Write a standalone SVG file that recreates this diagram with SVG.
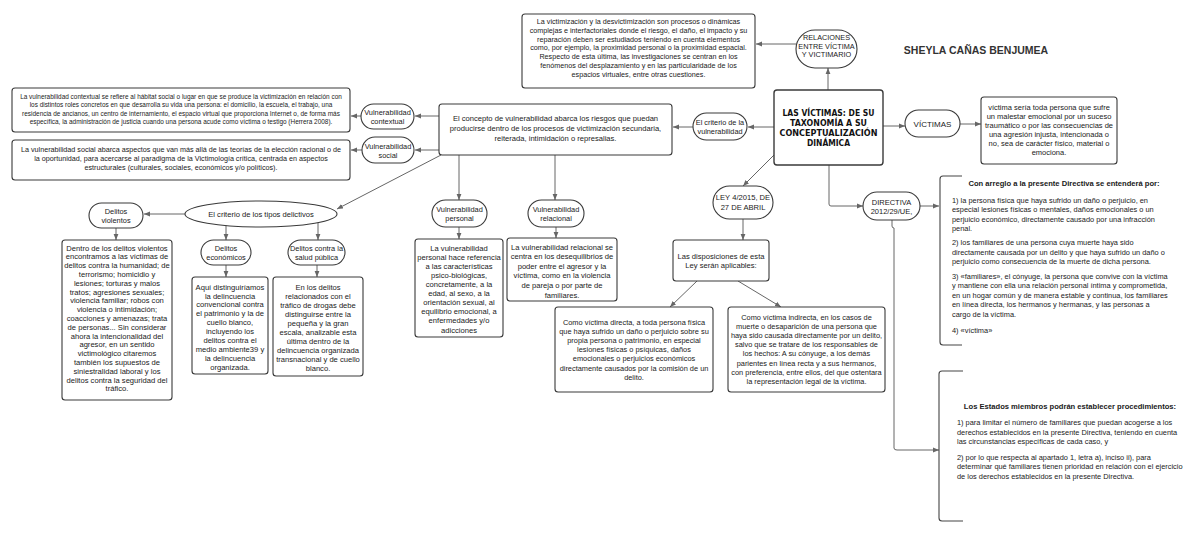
<svg xmlns="http://www.w3.org/2000/svg" width="1200" height="535" viewBox="0 0 1200 535">
<style>
text{font-family:"Liberation Sans",Arial,sans-serif;fill:#1a1a1a}
.t{font-size:7.5px;text-anchor:middle}
.l{font-size:7.4px;text-anchor:start}
.b{fill:#fff;stroke:#3a3a3a;stroke-width:1.1}
.c{fill:none;stroke:#666;stroke-width:1}
.br{fill:none;stroke:#444;stroke-width:1.1}
.h{font-weight:bold}
.m{font-family:"DejaVu Sans",sans-serif;font-weight:bold;font-size:9.5px;text-anchor:middle;fill:#111}
</style>
<defs>
<marker id="a" viewBox="0 0 10 10" refX="10" refY="5" markerWidth="6" markerHeight="6" markerUnits="userSpaceOnUse" orient="auto"><path d="M0,1 L10,5 L0,9 z" fill="#666"/></marker>
</defs>
<rect width="1200" height="535" fill="#fff"/>

<g id="connectors" class="c" marker-end="url(#a)">
<path d="M828,90 V68"/>
<path d="M796,44 H756"/>
<path d="M774,127 H748"/>
<path d="M693,127 H673"/>
<path d="M439,116 H415"/>
<path d="M361,116 H351"/>
<path d="M439,150 H415"/>
<path d="M362,150 H351"/>
<path d="M441,155 L337,209"/>
<path d="M185,214 H144"/>
<path d="M116,228 V240"/>
<path d="M226,225 V240"/>
<path d="M226,265 V277"/>
<path d="M318,223 V240"/>
<path d="M317,265 V277"/>
<path d="M459,155 V200"/>
<path d="M459,227 V239"/>
<path d="M555,155 V200"/>
<path d="M556,227 V238"/>
<path d="M775,154 L743,186"/>
<path d="M743,219 V240"/>
<path d="M697,281 L670,307"/>
<path d="M738,281 L781,307"/>
<path d="M829,165 V204 Q829,206 831,206 H863"/>
<path d="M883,126 H905"/>
<path d="M960,124 H981"/>
<path d="M920,206 H939"/>
<path d="M892,220 V226 Q892,228 894,228 V448 Q894,450 897,450 H939"/>
</g>

<text x="976" y="54" class="h" style="font-size:10.5px;text-anchor:middle;fill:#333">SHEYLA CAÑAS BENJUMEA</text>

<g id="center">
<rect class="b" x="774" y="90" width="109" height="75" rx="3" style="stroke-width:1.4"/>
<text class="m" x="828.5" y="115.5" textLength="92" lengthAdjust="spacingAndGlyphs">LAS VÍCTIMAS: DE SU</text>
<text class="m" x="828.5" y="125.5" textLength="77" lengthAdjust="spacingAndGlyphs">TAXONOMÍA A SU</text>
<text class="m" x="828.5" y="135.5" textLength="98" lengthAdjust="spacingAndGlyphs">CONCEPTUALIZACIÓN</text>
<text class="m" x="828.5" y="145.5" textLength="43" lengthAdjust="spacingAndGlyphs">DINÁMICA</text>
</g>

<g id="relaciones">
<rect class="b" x="796" y="30" width="61" height="38" rx="19"/>
<text class="t" x="826.5" y="40" style="font-size:7.3px">RELACIONES</text>
<text class="t" x="826.5" y="48.5" style="font-size:7.3px">ENTRE VÍCTIMA</text>
<text class="t" x="826.5" y="57" style="font-size:7.3px">Y VICTIMARIO</text>
</g>

<g id="victimizacion" class="t" style="font-size:7.2px">
<rect class="b" x="522" y="14" width="233" height="74" rx="3"/>
<text x="638.5" y="24">La victimización y la desvictimización son procesos o dinámicas</text>
<text x="638.5" y="32.8">complejas e interfactoriales donde el riesgo, el daño, el impacto y su</text>
<text x="638.5" y="41.6">reparación deben ser estudiados teniendo en cuenta elementos</text>
<text x="638.5" y="50.4">como, por ejemplo, la proximidad personal o la proximidad espacial.</text>
<text x="638.5" y="59.2">Respecto de esta última, las investigaciones se centran en los</text>
<text x="638.5" y="68">fenómenos del desplazamiento y en las particularidade de los</text>
<text x="638.5" y="76.8">espacios virtuales, entre otras cuestiones.</text>
</g>

<g id="criterio-vuln" class="t" style="font-size:7.3px">
<rect class="b" x="693" y="113" width="54" height="27" rx="13.5"/>
<text x="720" y="124.6">El criterio de la</text>
<text x="720" y="133.6">vulnerabilidad</text>
</g>

<g id="concepto" class="t" style="font-size:7.6px">
<rect class="b" x="439" y="104" width="233" height="51" rx="3"/>
<text x="555.5" y="120.7">El concepto de vulnerabilidad abarca los riesgos que puedan</text>
<text x="555.5" y="130.7">producirse dentro de los procesos de victimización secundaria,</text>
<text x="555.5" y="140.7">reiterada, intimidación o represalias.</text>
</g>

<g id="vuln-contextual" class="t" style="font-size:7.4px">
<rect class="b" x="361" y="104" width="53" height="25" rx="12.5"/>
<text x="387.5" y="114.6">Vulnerabilidad</text>
<text x="387.5" y="123.6">contextual</text>
</g>

<g id="contextual-texto" class="t" style="font-size:6.45px">
<rect class="b" x="12" y="88" width="338" height="44" rx="3"/>
<text x="181" y="98.7">La vulnerabilidad contextual se refiere al hábitat social o lugar en que se produce la victimización en relación con</text>
<text x="181" y="107.2">los distintos roles concretos en que desarrolla su vida una persona: el domicilio, la escuela, el trabajo, una</text>
<text x="181" y="115.7">residencia de ancianos, un centro de internamiento, el espacio virtual que proporciona Internet o, de forma más</text>
<text x="181" y="124.2">específica, la administración de justicia cuando una persona acude como víctima o testigo (Herrera 2008).</text>
</g>

<g id="vuln-social" class="t" style="font-size:7.4px">
<rect class="b" x="362" y="137" width="52" height="26" rx="13"/>
<text x="388" y="148.6">Vulnerabilidad</text>
<text x="388" y="157.6">social</text>
</g>

<g id="social-texto" class="t" style="font-size:7.2px">
<rect class="b" x="12" y="140" width="338" height="40" rx="3"/>
<text x="181" y="151.5">La vulnerabilidad social abarca aspectos que van más allá de las teorías de la elección racional o de</text>
<text x="181" y="160.5">la oportunidad, para acercarse al paradigma de la Victimología crítica, centrada en aspectos</text>
<text x="181" y="169.5">estructurales (culturales, sociales, económicos y/o políticos).</text>
</g>

<g id="tipos-delictivos" class="t" style="font-size:7.6px">
<ellipse class="b" cx="261" cy="214" rx="76" ry="13"/>
<text x="261" y="216.7">El criterio de los tipos delictivos</text>
</g>

<g id="delitos-violentos" class="t" style="font-size:7.4px">
<rect class="b" x="89" y="203" width="54" height="25" rx="12.5"/>
<text x="116" y="213.6">Delitos</text>
<text x="116" y="222.6">violentos</text>
</g>

<g id="violentos-texto" class="t" style="font-size:7.6px">
<rect class="b" x="62" y="240" width="110" height="160" rx="3"/>
<text x="117" y="250.6">Dentro de los delitos violentos</text>
<text x="117" y="259.4">encontramos a las víctimas de</text>
<text x="117" y="268.2">delitos contra la humanidad; de</text>
<text x="117" y="277">terrorismo; homicidio y</text>
<text x="117" y="285.8">lesiones; torturas y malos</text>
<text x="117" y="294.6">tratos; agresiones sexuales;</text>
<text x="117" y="303.4">violencia familiar; robos con</text>
<text x="117" y="312.2">violencia o intimidación;</text>
<text x="117" y="321">coacciones y amenazas; trata</text>
<text x="117" y="329.8">de personas... Sin considerar</text>
<text x="117" y="338.6">ahora la intencionalidad del</text>
<text x="117" y="347.4">agresor, en un sentido</text>
<text x="117" y="356.2">victimológico citaremos</text>
<text x="117" y="365">también los supuestos de</text>
<text x="117" y="373.8">siniestralidad laboral y los</text>
<text x="117" y="382.6">delitos contra la seguridad del</text>
<text x="117" y="391.4">tráfico.</text>
</g>

<g id="delitos-economicos" class="t" style="font-size:7.4px">
<rect class="b" x="201" y="240" width="50" height="25" rx="12.5"/>
<text x="226" y="250.6">Delitos</text>
<text x="226" y="259.6">económicos</text>
</g>

<g id="economicos-texto" class="t" style="font-size:7.6px">
<rect class="b" x="192" y="277" width="76" height="97" rx="3"/>
<text x="230" y="289.6">Aquí distinguiríamos</text>
<text x="230" y="298.5">la delincuencia</text>
<text x="230" y="307.4">convencional contra</text>
<text x="230" y="316.3">el patrimonio y la de</text>
<text x="230" y="325.2">cuello blanco,</text>
<text x="230" y="334.1">incluyendo los</text>
<text x="230" y="343">delitos contra el</text>
<text x="230" y="351.9">medio ambiente39 y</text>
<text x="230" y="360.8">la delincuencia</text>
<text x="230" y="369.7">organizada.</text>
</g>

<g id="salud-publica" class="t" style="font-size:7.4px">
<rect class="b" x="288" y="240" width="57" height="25" rx="12.5"/>
<text x="316.5" y="250.6">Delitos contra la</text>
<text x="316.5" y="259.6">salud pública</text>
</g>

<g id="salud-texto" class="t" style="font-size:7.6px">
<rect class="b" x="273" y="277" width="90" height="99" rx="3"/>
<text x="318" y="289.6">En los delitos</text>
<text x="318" y="298.6">relacionados con el</text>
<text x="318" y="307.6">tráfico de drogas debe</text>
<text x="318" y="316.6">distinguirse entre la</text>
<text x="318" y="325.6">pequeña y la gran</text>
<text x="318" y="334.6">escala, analizable esta</text>
<text x="318" y="343.6">última dentro de la</text>
<text x="318" y="352.6">delincuencia organizada</text>
<text x="318" y="361.6">transnacional y de cuello</text>
<text x="318" y="370.6">blanco.</text>
</g>

<g id="vuln-personal" class="t" style="font-size:7.4px">
<rect class="b" x="432" y="200" width="55" height="27" rx="13.5"/>
<text x="459.5" y="211.6">Vulnerabilidad</text>
<text x="459.5" y="220.6">personal</text>
</g>

<g id="personal-texto" class="t" style="font-size:7.6px">
<rect class="b" x="415" y="239" width="88" height="98" rx="3"/>
<text x="459" y="250.6">La vulnerabilidad</text>
<text x="459" y="259.7">personal hace referencia</text>
<text x="459" y="268.8">a las características</text>
<text x="459" y="277.9">psico-biológicas,</text>
<text x="459" y="287">concretamente, a la</text>
<text x="459" y="296.1">edad, al sexo, a la</text>
<text x="459" y="305.2">orientación sexual, al</text>
<text x="459" y="314.3">equilibrio emocional, a</text>
<text x="459" y="323.4">enfermedades y/o</text>
<text x="459" y="332.5">adicciones</text>
</g>

<g id="vuln-relacional" class="t" style="font-size:7.4px">
<rect class="b" x="528" y="200" width="56" height="27" rx="13.5"/>
<text x="556" y="211.6">Vulnerabilidad</text>
<text x="556" y="220.6">relacional</text>
</g>

<g id="relacional-texto" class="t" style="font-size:7.6px">
<rect class="b" x="507" y="238" width="110" height="63" rx="3"/>
<text x="562" y="249.6">La vulnerabilidad relacional se</text>
<text x="562" y="259.2">centra en los desequilibrios de</text>
<text x="562" y="268.8">poder entre el agresor y la</text>
<text x="562" y="278.4">víctima, como en la violencia</text>
<text x="562" y="288">de pareja o por parte de</text>
<text x="562" y="297.6">familiares.</text>
</g>

<g id="ley" class="t" style="font-size:7.6px">
<rect class="b" x="713" y="186" width="60" height="33" rx="16.5"/>
<text x="743" y="199.6">LEY 4/2015, DE</text>
<text x="743" y="209.6">27 DE ABRIL</text>
</g>

<g id="disposiciones" class="t" style="font-size:7.6px">
<rect class="b" x="673" y="240" width="96" height="41" rx="3"/>
<text x="721" y="258.6">Las disposiciones de esta</text>
<text x="721" y="268.1">Ley serán aplicables:</text>
</g>

<g id="victima-directa" class="t" style="font-size:7.4px">
<rect class="b" x="555" y="307" width="158" height="85" rx="3"/>
<text x="634" y="324.6">Como víctima directa, a toda persona física</text>
<text x="634" y="333.8">que haya sufrido un daño o perjuicio sobre su</text>
<text x="634" y="343">propia persona o patrimonio, en especial</text>
<text x="634" y="352.2">lesiones físicas o psíquicas, daños</text>
<text x="634" y="361.4">emocionales o perjuicios económicos</text>
<text x="634" y="370.6">directamente causados por la comisión de un</text>
<text x="634" y="379.8">delito.</text>
</g>

<g id="victima-indirecta" class="t" style="font-size:7.4px">
<rect class="b" x="728" y="307" width="157" height="85" rx="3"/>
<text x="806.5" y="319.6">Como víctima indirecta, en los casos de</text>
<text x="806.5" y="328.8">muerte o desaparición de una persona que</text>
<text x="806.5" y="338">haya sido causada directamente por un delito,</text>
<text x="806.5" y="347.2">salvo que se tratare de los responsables de</text>
<text x="806.5" y="356.4">los hechos:  A su cónyuge, a los demás</text>
<text x="806.5" y="365.6">parientes en línea recta y a sus hermanos,</text>
<text x="806.5" y="374.8">con preferencia, entre ellos, del que ostentara</text>
<text x="806.5" y="384">la representación legal de la víctima.</text>
</g>

<g id="victimas" class="t" style="font-size:8px">
<rect class="b" x="905" y="110" width="55" height="27" rx="13.5"/>
<text x="932.5" y="126.5">VÍCTIMAS</text>
</g>

<g id="victima-def" class="t" style="font-size:7.5px">
<rect class="b" x="981" y="97" width="136" height="67" rx="3"/>
<text x="1049" y="110.1">víctima sería toda persona que sufre</text>
<text x="1049" y="119.1">un malestar emocional por un suceso</text>
<text x="1049" y="128.1">traumático o por las consecuencias de</text>
<text x="1049" y="137.1">una agresión injusta, intencionada o</text>
<text x="1049" y="146.1">no, sea de carácter físico, material o</text>
<text x="1049" y="155.1">emociona.</text>
</g>

<g id="directiva" class="t" style="font-size:7.5px">
<rect class="b" x="863" y="192" width="57" height="28" rx="14"/>
<text x="891.5" y="204.6">DIRECTIVA</text>
<text x="891.5" y="214.1">2012/29/UE,</text>
</g>

<g id="directiva-definiciones">
<path class="br" d="M962,176 H943 Q940,176 940,179 V342 Q940,345 943,345 H962"/>
<text class="t h" x="1064" y="185.7" style="font-size:7.6px">Con arreglo a la presente Directiva se entenderá por:</text>
<text class="l" x="952" y="202.6">1) la persona física que haya sufrido un daño o perjuicio, en</text>
<text class="l" x="952" y="212.1">especial lesiones físicas o mentales, daños emocionales o un</text>
<text class="l" x="952" y="221.6">perjuicio económico, directamente causado por una infracción</text>
<text class="l" x="952" y="231.1">penal.</text>
<text class="l" x="952" y="245">2) los familiares de una persona cuya muerte haya sido</text>
<text class="l" x="952" y="254.5">directamente causada por un delito y que haya sufrido un daño o</text>
<text class="l" x="952" y="264">perjuicio como consecuencia de la muerte de dicha persona.</text>
<text class="l" x="952" y="278.6">3) «familiares», el cónyuge, la persona que convive con la víctima</text>
<text class="l" x="952" y="288.1">y mantiene con ella una relación personal íntima y comprometida,</text>
<text class="l" x="952" y="297.6">en un hogar común y de manera estable y continua, los familiares</text>
<text class="l" x="952" y="307.1">en línea directa, los hermanos y hermanas, y las personas a</text>
<text class="l" x="952" y="316.6">cargo de la víctima.</text>
<text class="l" x="952" y="332.6">4) «víctima»</text>
</g>

<g id="estados-miembros">
<path class="br" d="M963,371 H942 Q939,371 939,374 V518 Q939,521 942,521 H963"/>
<text class="t h" x="1070" y="408.5" style="font-size:7.6px">Los Estados miembros podrán establecer procedimientos:</text>
<text class="l" x="957" y="425.3">1) para limitar el número de familiares que puedan acogerse a los</text>
<text class="l" x="957" y="434.8">derechos establecidos en la presente Directiva, teniendo en cuenta</text>
<text class="l" x="957" y="444.3">las circunstancias específicas de cada caso, y</text>
<text class="l" x="957" y="459.6">2) por lo que respecta al apartado 1, letra a), inciso ii), para</text>
<text class="l" x="957" y="469.1">determinar qué familiares tienen prioridad en relación con el ejercicio</text>
<text class="l" x="957" y="478.6">de los derechos establecidos en la presente Directiva.</text>
</g>
</svg>
